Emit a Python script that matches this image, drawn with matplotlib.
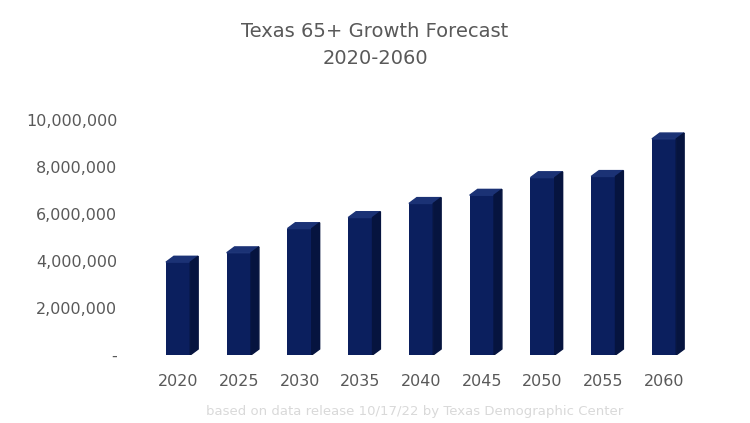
import matplotlib
matplotlib.use("Agg")
import matplotlib.pyplot as plt
from matplotlib.patches import Polygon
from matplotlib.ticker import FuncFormatter

years = ["2020", "2025", "2030", "2035", "2040", "2045", "2050", "2055", "2060"]
values = [3950000, 4350000, 5380000, 5850000, 6450000, 6800000, 7550000, 7600000, 9200000]

fig = plt.figure(figsize=(7.5, 4.23), dpi=100)
ax = fig.add_axes([0.197, 0.161, 0.733, 0.555])
ax.set_xlim(-0.5, 8.55)
ax.set_ylim(0, 10000000)

w = 0.40
dx, dy = 0.13, 250000
front, top, side = "#0b1f5e", "#1b3275", "#06143f"
xs = list(range(len(years)))
ax.bar(xs, values, width=w, color=front, zorder=3)
for x, v in zip(xs, values):
    l, r = x - w / 2, x + w / 2
    ax.add_patch(Polygon([(l, v), (r, v), (r + dx, v + dy), (l + dx, v + dy)], closed=True, color=top, zorder=3))
    ax.add_patch(Polygon([(r, 0), (r + dx, dy), (r + dx, v + dy), (r, v)], closed=True, color=side, zorder=3))

ax.set_xticks(xs)
ax.set_xticklabels(years)
ax.set_yticks(range(0, 10000001, 2000000))
ax.yaxis.set_major_formatter(FuncFormatter(lambda v, p: "-" if v == 0 else f"{int(v):,}"))
for s in ax.spines.values():
    s.set_visible(False)
ax.tick_params(length=0, labelsize=11.5, colors="#595959")
ax.tick_params(axis="x", pad=14)
ax.tick_params(axis="y", pad=22)

fig.text(0.5, 0.925, "Texas 65+ Growth Forecast", ha="center", va="center", fontsize=14, color="#595959")
fig.text(0.5, 0.862, "2020-2060", ha="center", va="center", fontsize=14, color="#595959")
fig.text(0.553, 0.027, "based on data release 10/17/22 by Texas Demographic Center", ha="center", va="center", fontsize=9.5, color="#d9d9d9")

fig.savefig("out.png", dpi=100)
